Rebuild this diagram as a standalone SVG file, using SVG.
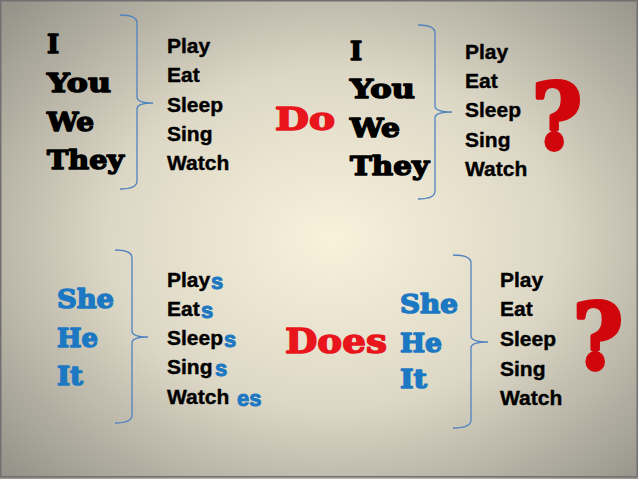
<svg xmlns="http://www.w3.org/2000/svg" width="638" height="479" viewBox="0 0 638 479">
<defs>
<radialGradient id="bg" cx="52%" cy="50%" r="70%">
<stop offset="0" stop-color="#f8f2db"/>
<stop offset="0.5" stop-color="#ddd8c6"/>
<stop offset="1" stop-color="#96948a"/>
</radialGradient>
<style>
.pr{font-family:"DejaVu Serif",serif;font-weight:bold;font-size:26px;fill:#000;stroke:#000;stroke-width:1.5;stroke-linejoin:round}
.bl{fill:#1c78c2;stroke:#1c78c2}
.vb{font-family:"Liberation Sans",Arial,sans-serif;font-weight:bold;font-size:21px;fill:#000;stroke:#000;stroke-width:0.4}
.sf{fill:#1c78c2;stroke:#1c78c2;stroke-width:0.9;font-size:22px;font-weight:bold}
.red{font-family:"DejaVu Serif",serif;font-weight:bold;fill:#e8161c;stroke:#e8161c;stroke-width:1.5;stroke-linejoin:round}
.q{font-family:"DejaVu Serif",serif;font-weight:bold;font-size:92px;fill:#d0060c;stroke:#d0060c;stroke-width:4;stroke-linejoin:round}
.br{fill:none;stroke:#5083c0;stroke-width:1.3}
</style>
</defs>
<rect x="0" y="0" width="638" height="479" fill="url(#bg)"/>
<rect x="0.75" y="0.75" width="636.5" height="476" fill="none" stroke="#707070" stroke-width="1.5"/>

<g id="connectors">
<path class="br" d="M120,15 Q137,15 137,23 L137,97 Q137,103 153,103 Q137,103 137,109 L137,181 Q137,189 120,189"/>
<path class="br" d="M418,25 Q435,25 435,33 L435,106 Q435,112 452,112 Q435,112 435,118 L435,191 Q435,199 418,199"/>
<path class="br" d="M115,250 Q132,250 132,258 L132,331 Q132,337 148,337 Q132,337 132,343 L132,415 Q132,423 115,423"/>
<path class="br" d="M453,255 Q471,255 471,263 L471,336 Q471,342 488,342 Q471,342 471,348 L471,420 Q471,428 453,428"/>
</g>

<g id="pronouns1">
<text class="pr" x="47" y="53">I</text>
<text class="pr" x="47" y="92" textLength="64" lengthAdjust="spacingAndGlyphs">You</text>
<text class="pr" x="47" y="131" textLength="47" lengthAdjust="spacingAndGlyphs">We</text>
<text class="pr" x="47" y="169" textLength="77" lengthAdjust="spacingAndGlyphs">They</text>
</g>
<g id="verbs1" class="vb">
<text x="167" y="53">Play</text>
<text x="167" y="82">Eat</text>
<text x="167" y="112">Sleep</text>
<text x="167" y="141">Sing</text>
<text x="167" y="170">Watch</text>
</g>
<g id="do">
<text class="red" x="275" y="130" font-size="31" textLength="60" lengthAdjust="spacingAndGlyphs">Do</text>
</g>
<g id="pronouns2">
<text class="pr" x="350" y="60">I</text>
<text class="pr" x="350" y="98" textLength="65" lengthAdjust="spacingAndGlyphs">You</text>
<text class="pr" x="350" y="137" textLength="50" lengthAdjust="spacingAndGlyphs">We</text>
<text class="pr" x="350" y="175" textLength="79" lengthAdjust="spacingAndGlyphs">They</text>
</g>
<g id="verbs2" class="vb">
<text x="465" y="59">Play</text>
<text x="465" y="88">Eat</text>
<text x="465" y="117">Sleep</text>
<text x="465" y="147">Sing</text>
<text x="465" y="176">Watch</text>
</g>
<g id="q1">
<text class="q" x="532" y="149" textLength="50" lengthAdjust="spacingAndGlyphs">?</text>
</g>

<g id="pronouns3">
<text class="pr bl" x="57" y="308" textLength="57" lengthAdjust="spacingAndGlyphs">She</text>
<text class="pr bl" x="57" y="347" textLength="41" lengthAdjust="spacingAndGlyphs">He</text>
<text class="pr bl" x="57" y="385" textLength="26" lengthAdjust="spacingAndGlyphs">It</text>
</g>
<g id="verbs3" class="vb">
<text x="167" y="287">Play<tspan class="sf" x="211" y="289">s</tspan></text>
<text x="167" y="316">Eat<tspan class="sf" x="201" y="318">s</tspan></text>
<text x="167" y="345">Sleep<tspan class="sf" x="224" y="347">s</tspan></text>
<text x="167" y="374">Sing<tspan class="sf" x="215" y="376">s</tspan></text>
<text x="167" y="404">Watch<tspan class="sf" x="237" y="406">es</tspan></text>
</g>
<g id="does">
<text class="red" x="285" y="353" font-size="34" textLength="102" lengthAdjust="spacingAndGlyphs">Does</text>
</g>
<g id="pronouns4">
<text class="pr bl" x="400" y="313" textLength="58" lengthAdjust="spacingAndGlyphs">She</text>
<text class="pr bl" x="400" y="352" textLength="42" lengthAdjust="spacingAndGlyphs">He</text>
<text class="pr bl" x="400" y="388" textLength="27" lengthAdjust="spacingAndGlyphs">It</text>
</g>
<g id="verbs4" class="vb">
<text x="500" y="287">Play</text>
<text x="500" y="316">Eat</text>
<text x="500" y="346">Sleep</text>
<text x="500" y="376">Sing</text>
<text x="500" y="405">Watch</text>
</g>
<g id="q2">
<text class="q" x="573" y="369" textLength="50" lengthAdjust="spacingAndGlyphs">?</text>
</g>
</svg>
